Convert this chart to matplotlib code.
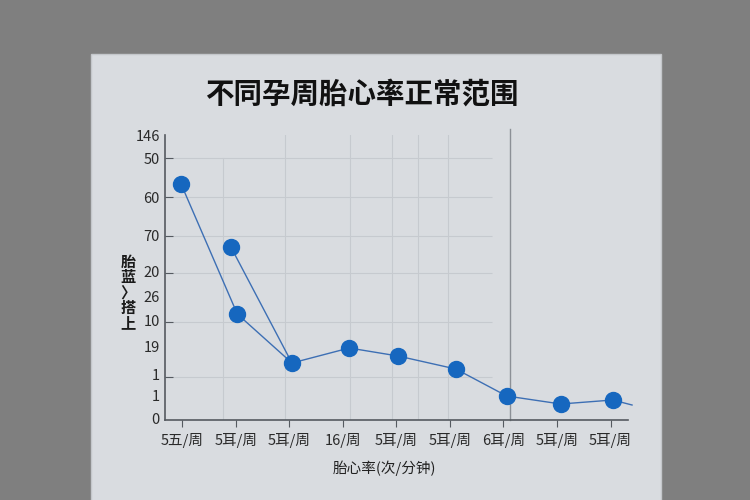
import matplotlib
matplotlib.use("Agg")
import matplotlib.pyplot as plt
from matplotlib.patches import Rectangle

plt.rcParams['font.family'] = ['Noto Sans CJK SC', 'DejaVu Sans']

# data (arbitrary units, garbled labels kept as drawn)
title = "不同孕周胎心率正常范围"
xlabel = "胎心率(次/分钟)"
ylabel = "胎\n蓝\n〉\n搭\n上"
x_ticks = [0, 1, 2, 3, 4, 5, 6, 7, 8]
x_labels = ["5五/周", "5耳/周", "5耳/周", "16/周", "5耳/周", "5耳/周", "6耳/周", "5耳/周", "5耳/周"]
y_ticks = [262, 223, 184, 147, 98, 43]
y_label_pos = [283, 260, 221, 183, 147, 122, 98, 72, 44, 23, 0]
y_labels = ["146", "50", "60", "70", "20", "26", "10", "19", "1", "1", "0"]

main_x = [-0.02, 1.03, 2.05, 3.12, 4.03, 5.11, 6.06, 7.07, 8.04, 8.40]
main_y = [236, 106, 57, 72, 64, 51, 24, 16, 20, 15]
branch_x = [0.91, 2.05]
branch_y = [173, 57]

fig = plt.figure(figsize=(7.5, 5), dpi=100, facecolor='#7f7f7f')
# light board behind the chart
board = Rectangle((0.1213, -0.05), 0.76, 0.942, transform=fig.transFigure,
                  facecolor='#d9dce0', edgecolor='#c4c7cb', lw=1, zorder=-10)
fig.patches.append(board)

ax = fig.add_axes([0.22, 0.16, 0.617, 0.57])
ax.set_facecolor('none')
ax.set_xlim(-0.32, 8.32)
ax.set_ylim(0, 285)

# partial grid as drawn
for gx in [1.92, 3.13, 3.92, 4.40, 4.96]:
    ax.axvline(gx, color='#c6cacf', lw=0.8, zorder=1)
ax.axvline(0.76, ymax=262 / 285, color='#c6cacf', lw=0.8, zorder=1)
for gy in y_ticks:
    ax.hlines(gy, -0.32, 5.78, color='#c6cacf', lw=0.8, zorder=1)
ax.axvline(6.12, ymax=1.02, color='#8c9096', lw=1.0, zorder=1, clip_on=False)

ax.plot(main_x, main_y, color='#3d6fb4', lw=1.0, zorder=2, clip_on=False)
ax.plot(branch_x, branch_y, color='#3d6fb4', lw=1.0, zorder=2)
ax.plot(main_x[:-1], main_y[:-1], 'o', color='#1667bf', ms=11.5, zorder=3, clip_on=False)
ax.plot(branch_x[:1], branch_y[:1], 'o', color='#1667bf', ms=11.5, zorder=3)

for s in ['top', 'right']:
    ax.spines[s].set_visible(False)
for s in ['left', 'bottom']:
    ax.spines[s].set_color('#555a60')
    ax.spines[s].set_linewidth(1.2)

ax.set_xticks(x_ticks)
ax.set_xticklabels(x_labels, fontsize=10.5, color='#2a2a2a')
ax.tick_params(axis='x', length=5, color='#555a60', pad=4)
ax.set_yticks(y_ticks)
ax.set_yticklabels([])
ax.tick_params(axis='y', direction='in', length=6, color='#555a60')
for pos, lab in zip(y_label_pos, y_labels):
    ax.text(-0.42, pos, lab, ha='right', va='center', fontsize=10.5, color='#2a2a2a')

fig.text(0.171, 0.415, ylabel, ha='center', va='center', fontsize=11, color='#1a1a1a',
         fontweight='bold', linespacing=0.95)
fig.text(0.513, 0.063, xlabel, ha='center', va='center', fontsize=10.5, color='#222')
fig.text(0.483, 0.81, title, ha='center', va='center', fontsize=20.5, fontweight='bold',
         color='#111')

fig.savefig('out.png', dpi=100, facecolor=fig.get_facecolor())
